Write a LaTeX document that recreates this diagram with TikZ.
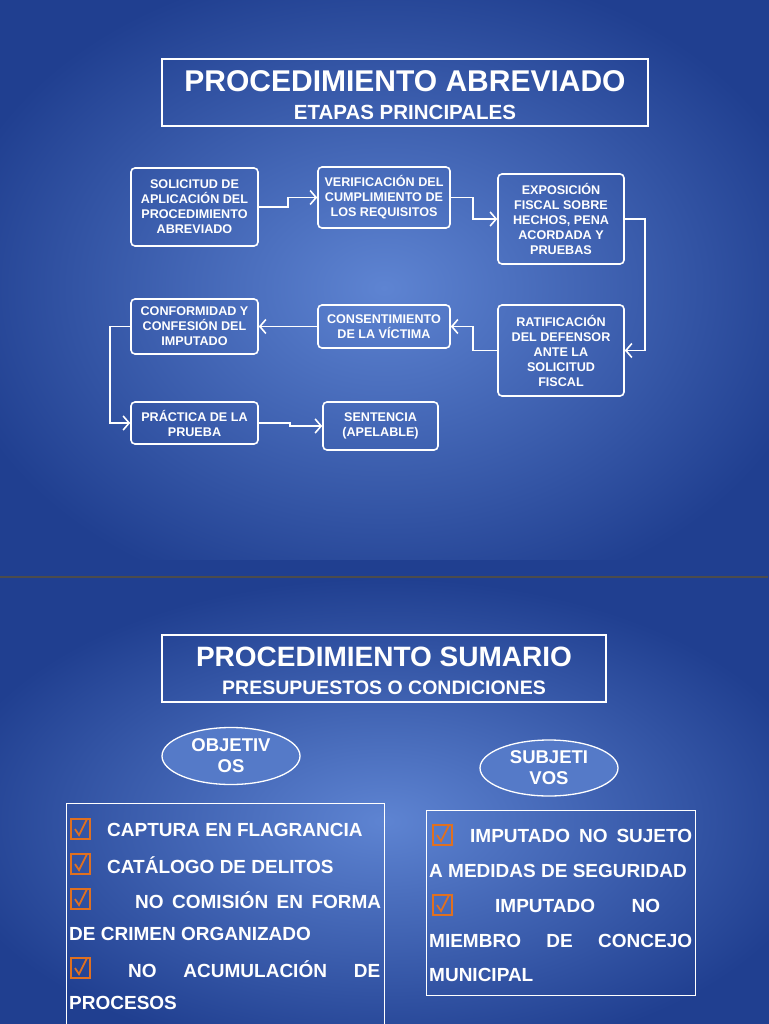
\documentclass[tikz,border=0pt]{standalone}
\usepackage{fontspec}
\setmainfont{Liberation Sans}
\usetikzlibrary{arrows.meta,shapes.geometric,calc}
\definecolor{bgin}{HTML}{5E84D2}
\definecolor{bgout}{HTML}{203F90}
\definecolor{chk}{HTML}{E07020}
\tikzset{
  stepbox/.style={draw=white,line width=1.6pt,rounded corners=4pt,align=center,text=white,font=\bfseries\fontsize{12.6}{15}\selectfont,inner sep=0pt},
  conn/.style={draw=white,line width=1.6pt,-{Straight Barb[length=6pt,width=14pt,line width=1.6pt]}},
  titlebox/.style={draw=white,line width=1.3pt,text=white,align=center,inner sep=0pt},
  ell/.style={ellipse,draw=white,line width=1.3pt,fill=bgin!85!bgout,text=white,align=center,font=\bfseries\fontsize{18.5}{21}\selectfont,inner sep=0pt},
  lst/.style={text=white,font=\bfseries\fontsize{19}{22}\selectfont,anchor=west,inner sep=0pt}
}
\newcommand{\chkbox}[1]{%
  \draw[chk,line width=1.5pt] ($(#1)+(1,-10)$) rectangle ($(#1)+(20,10)$);
  \draw[chk,line width=1.8pt] ($(#1)+(5,0)$) -- ($(#1)+(9,6)$) -- ($(#1)+(17,-10)$);}
\begin{document}
\begin{tikzpicture}[x=1pt,y=-1pt]
\useasboundingbox (0,0) rectangle (768,1024);
\shade[inner color=bgin,outer color=bgout] (-60,-40) rectangle (828,616);
\shade[inner color=bgin,outer color=bgout] (-60,560) rectangle (828,1064);
\fill[bgout] (0,560) rectangle (768,578);
\shade[inner color=bgin,outer color=bgout] (-60,578) rectangle (828,1064);
\fill[black!70] (0,575.5) rectangle (768,577.5);
% slide 1
\node[titlebox,minimum width=486,minimum height=67] (t1) at (405,92.5) {};
\node[text=white,font=\bfseries\fontsize{30}{32}\selectfont] (t1a) at (405,81) {PROCEDIMIENTO ABREVIADO};
\node[text=white,font=\bfseries\fontsize{20.5}{22}\selectfont] (t1b) at (405,112) {ETAPAS PRINCIPALES};
\node[stepbox,minimum width=127,minimum height=78] (a) at (194.5,207) {SOLICITUD DE\\APLICACIÓN DEL\\PROCEDIMIENTO\\ABREVIADO};
\node[stepbox,minimum width=132,minimum height=61] (b) at (384,197.5) {VERIFICACIÓN DEL\\CUMPLIMIENTO DE\\LOS REQUISITOS};
\node[stepbox,minimum width=126,minimum height=90] (c) at (561,219) {EXPOSICIÓN\\FISCAL SOBRE\\HECHOS, PENA\\ACORDADA Y\\PRUEBAS};
\node[stepbox,minimum width=126,minimum height=91] (d) at (561,350.5) {RATIFICACIÓN\\DEL DEFENSOR\\ANTE LA\\SOLICITUD\\FISCAL};
\node[stepbox,minimum width=132,minimum height=43] (e) at (384,326.5) {CONSENTIMIENTO\\DE LA VÍCTIMA};
\node[stepbox,minimum width=127,minimum height=55] (f) at (194.5,326.5) {CONFORMIDAD Y\\CONFESIÓN DEL\\IMPUTADO};
\node[stepbox,minimum width=127,minimum height=42] (g) at (194.5,423) {PRÁCTICA DE LA\\PRUEBA};
\node[stepbox,minimum width=115,minimum height=48] (h) at (380.5,426) {SENTENCIA\\(APELABLE)};
\draw[conn] (a.east) -- (288,207) -- (288,197.5) -- (b.west);
\draw[conn] (b.east) -- (473,197.5) -- (473,219) -- (c.west);
\draw[conn] (c.east) -- (645,219) -- (645,350.5) -- (d.east);
\draw[conn] (d.west) -- (473,350.5) -- (473,326.5) -- (e.east);
\draw[conn] (e.west) -- (f.east);
\draw[conn] (f.west) -- (110,326.5) -- (110,423) -- (g.west);
\draw[conn] (g.east) -- (290,423) -- (290,426) -- (h.west);
% slide 2
\node[titlebox,minimum width=444,minimum height=67] (t2) at (384,668.5) {};
\node[text=white,font=\bfseries\fontsize{28}{30}\selectfont] (t2a) at (384,657) {PROCEDIMIENTO SUMARIO};
\node[text=white,font=\bfseries\fontsize{19.5}{21}\selectfont] (t2b) at (384,688) {PRESUPUESTOS O CONDICIONES};
\node[ell,minimum width=138,minimum height=57] (o) at (231,756) {OBJETIV\\OS};
\node[ell,minimum width=138,minimum height=56] (s) at (549,768) {SUBJETI\\VOS};
\draw[white,line width=1pt] (66,1030) -- (66,803) -- (384,803) -- (384,1030);
\draw[white,line width=1pt] (426,810) rectangle (695,995);
% left list
\coordinate (c1) at (70,829); \chkbox{c1}
\node[lst] (l1) at (107,830) {CAPTURA EN FLAGRANCIA};
\coordinate (c2) at (70,864); \chkbox{c2}
\node[lst] (l2) at (107,865) {CATÁLOGO DE DELITOS};
\coordinate (c3) at (70,899); \chkbox{c3}
\node[lst] (l3) at (135,900) {\hbox to 246pt{NO\hfill COMISIÓN\hfill EN\hfill FORMA}};
\node[lst] (l4) at (69,934) {DE CRIMEN ORGANIZADO};
\coordinate (c5) at (70,968); \chkbox{c5}
\node[lst] (l5) at (128,969) {\hbox to 252pt{NO\hfill ACUMULACIÓN\hfill DE}};
\node[lst] (l6) at (69,1003) {PROCESOS};
% right list
\coordinate (r1) at (432,835); \chkbox{r1}
\node[lst] (m1) at (470,836) {\hbox to 222pt{IMPUTADO\hfill NO\hfill SUJETO}};
\node[lst] (m2) at (429,871) {A MEDIDAS DE SEGURIDAD};
\coordinate (r3) at (432,905); \chkbox{r3}
\node[lst] (m3) at (495,906) {\hbox to 165pt{IMPUTADO\hfill NO}};
\node[lst] (m4) at (429,941) {\hbox to 263pt{MIEMBRO\hfill DE\hfill CONCEJO}};
\node[lst] (m5) at (429,975) {MUNICIPAL};
\end{tikzpicture}
\end{document}
